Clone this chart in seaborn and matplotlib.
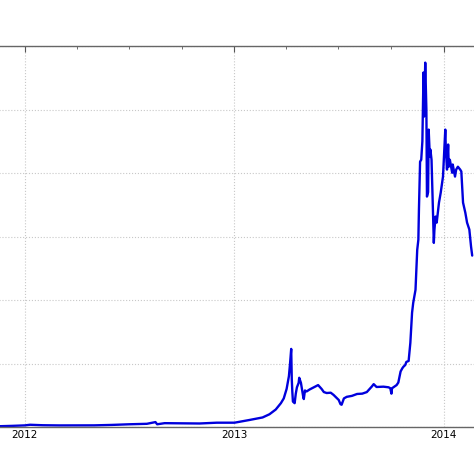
import pandas as pd
import matplotlib
matplotlib.use("Agg")
import matplotlib.pyplot as plt
import matplotlib.dates as mdates
import seaborn as sns

# BTC/USD price
dates = [
    "2011-09-01", "2011-10-01", "2011-11-01", "2011-11-20", "2011-12-10",
    "2012-01-01", "2012-01-10", "2012-02-01", "2012-03-01", "2012-04-01",
    "2012-05-01", "2012-06-01", "2012-07-01", "2012-08-01", "2012-08-16",
    "2012-08-19", "2012-09-01", "2012-10-01", "2012-11-01", "2012-12-01",
    "2013-01-01", "2013-01-27", "2013-02-19", "2013-03-03", "2013-03-14",
    "2013-03-23", "2013-03-28", "2013-04-02", "2013-04-06", "2013-04-08",
    "2013-04-10", "2013-04-11", "2013-04-12", "2013-04-13", "2013-04-16",
    "2013-04-18", "2013-04-20", "2013-04-23", "2013-04-24", "2013-04-27",
    "2013-05-01", "2013-05-02", "2013-05-04", "2013-05-07", "2013-05-12",
    "2013-05-23", "2013-05-27", "2013-06-02", "2013-06-06", "2013-06-11",
    "2013-06-18", "2013-06-23", "2013-06-28", "2013-07-02", "2013-07-05",
    "2013-07-07", "2013-07-11", "2013-07-16", "2013-07-25", "2013-08-03",
    "2013-08-12", "2013-08-20", "2013-08-29", "2013-09-01", "2013-09-06",
    "2013-09-18", "2013-09-27", "2013-09-30", "2013-10-02", "2013-10-03",
    "2013-10-11", "2013-10-14", "2013-10-18", "2013-10-21", "2013-10-23",
    "2013-10-26", "2013-10-28", "2013-11-01", "2013-11-04", "2013-11-06",
    "2013-11-07", "2013-11-09", "2013-11-13", "2013-11-15", "2013-11-16",
    "2013-11-18", "2013-11-19", "2013-11-21", "2013-11-23", "2013-11-25",
    "2013-11-27", "2013-11-28", "2013-11-30", "2013-12-02", "2013-12-03",
    "2013-12-05", "2013-12-06", "2013-12-08", "2013-12-09", "2013-12-11",
    "2013-12-13", "2013-12-15", "2013-12-16", "2013-12-18", "2013-12-20",
    "2013-12-24", "2013-12-27", "2013-12-31", "2014-01-02", "2014-01-04",
    "2014-01-05", "2014-01-07", "2014-01-09", "2014-01-10", "2014-01-12",
    "2014-01-16", "2014-01-17", "2014-01-21", "2014-01-23", "2014-01-26",
    "2014-01-30", "2014-02-01", "2014-02-04", "2014-02-08", "2014-02-11",
    "2014-02-15", "2014-02-18", "2014-02-20",
]
prices = [
    5, 4, 3, 2.5, 3.5,
    5, 7, 5.5, 4.9, 5,
    5.1, 6.5, 8.5, 10, 15.4,
    8.5, 12, 11.5, 11, 13.5,
    13.5, 22, 30, 40, 55,
    75, 90, 120, 160, 200,
    246, 150, 110, 80, 75,
    105, 125, 139, 155, 139,
    95, 88, 115, 112, 118,
    128, 132, 120, 110, 107,
    108, 101, 92, 85, 72,
    70, 90, 95, 98, 104,
    105, 110, 128, 135, 126,
    127, 125, 122, 105, 122,
    132, 140, 175, 185, 190,
    195, 205, 208, 265, 330,
    360, 391, 432, 520, 558,
    590, 685, 836, 842, 900,
    1117, 978, 1148, 1000, 726,
    740, 937, 852, 874, 842,
    707, 580, 620, 663, 644,
    707, 738, 789, 860, 937,
    874, 811, 890, 820, 842,
    801, 827, 789, 811, 820,
    811, 805, 707, 675, 644,
    622, 568, 540,
]
y_ticks = [0, 200, 400, 600, 800, 1000, 1200]

df = pd.DataFrame({"date": pd.to_datetime(dates), "price": prices})

sns.set_style("white")
plt.rcParams["font.family"] = ["DejaVu Sans"]

fig = plt.figure(figsize=(4.74, 4.74), dpi=100)
# the reference is a crop: the axes run past the left and right edges
ax = fig.add_axes([-0.05, 0.0992, 1.1, 0.8035])

sns.lineplot(data=df, x="date", y="price", ax=ax, color="#0000dd", linewidth=1.7)

# 2012 sits at px 25, 2014 at px 445 of the 474 px picture
d12 = mdates.date2num(pd.Timestamp("2012-01-01"))
d14 = mdates.date2num(pd.Timestamp("2014-01-01"))
per_px = (d14 - d12) / 420.0
ax.set_xlim(d12 - (25 + 0.05 * 474) * per_px, d12 + (0.95 * 474 + 24) * per_px)
ax.set_ylim(0, 1200)

ax.xaxis.set_major_locator(mdates.YearLocator())
ax.xaxis.set_major_formatter(mdates.DateFormatter("%Y"))
ax.xaxis.set_minor_locator(mdates.MonthLocator(bymonth=[4, 7, 10]))
ax.set_yticks(y_ticks)

ax.grid(True, which="major", linestyle=":", color="#c8c8c8", linewidth=0.8)
# y labels fall outside the cropped picture, so they are not drawn
ax.tick_params(axis="both", which="both", direction="in", top=True, right=True,
               colors="#555555", labelcolor="black", labelsize=7.5,
               labelleft=False)
ax.tick_params(which="major", length=4, pad=2)
ax.tick_params(which="minor", length=2)
for side in ["top", "bottom"]:
    ax.spines[side].set_color("#666666")
    ax.spines[side].set_linewidth(1.0)
ax.set_xlabel("")
ax.set_ylabel("")

fig.savefig("out.png", dpi=100)
